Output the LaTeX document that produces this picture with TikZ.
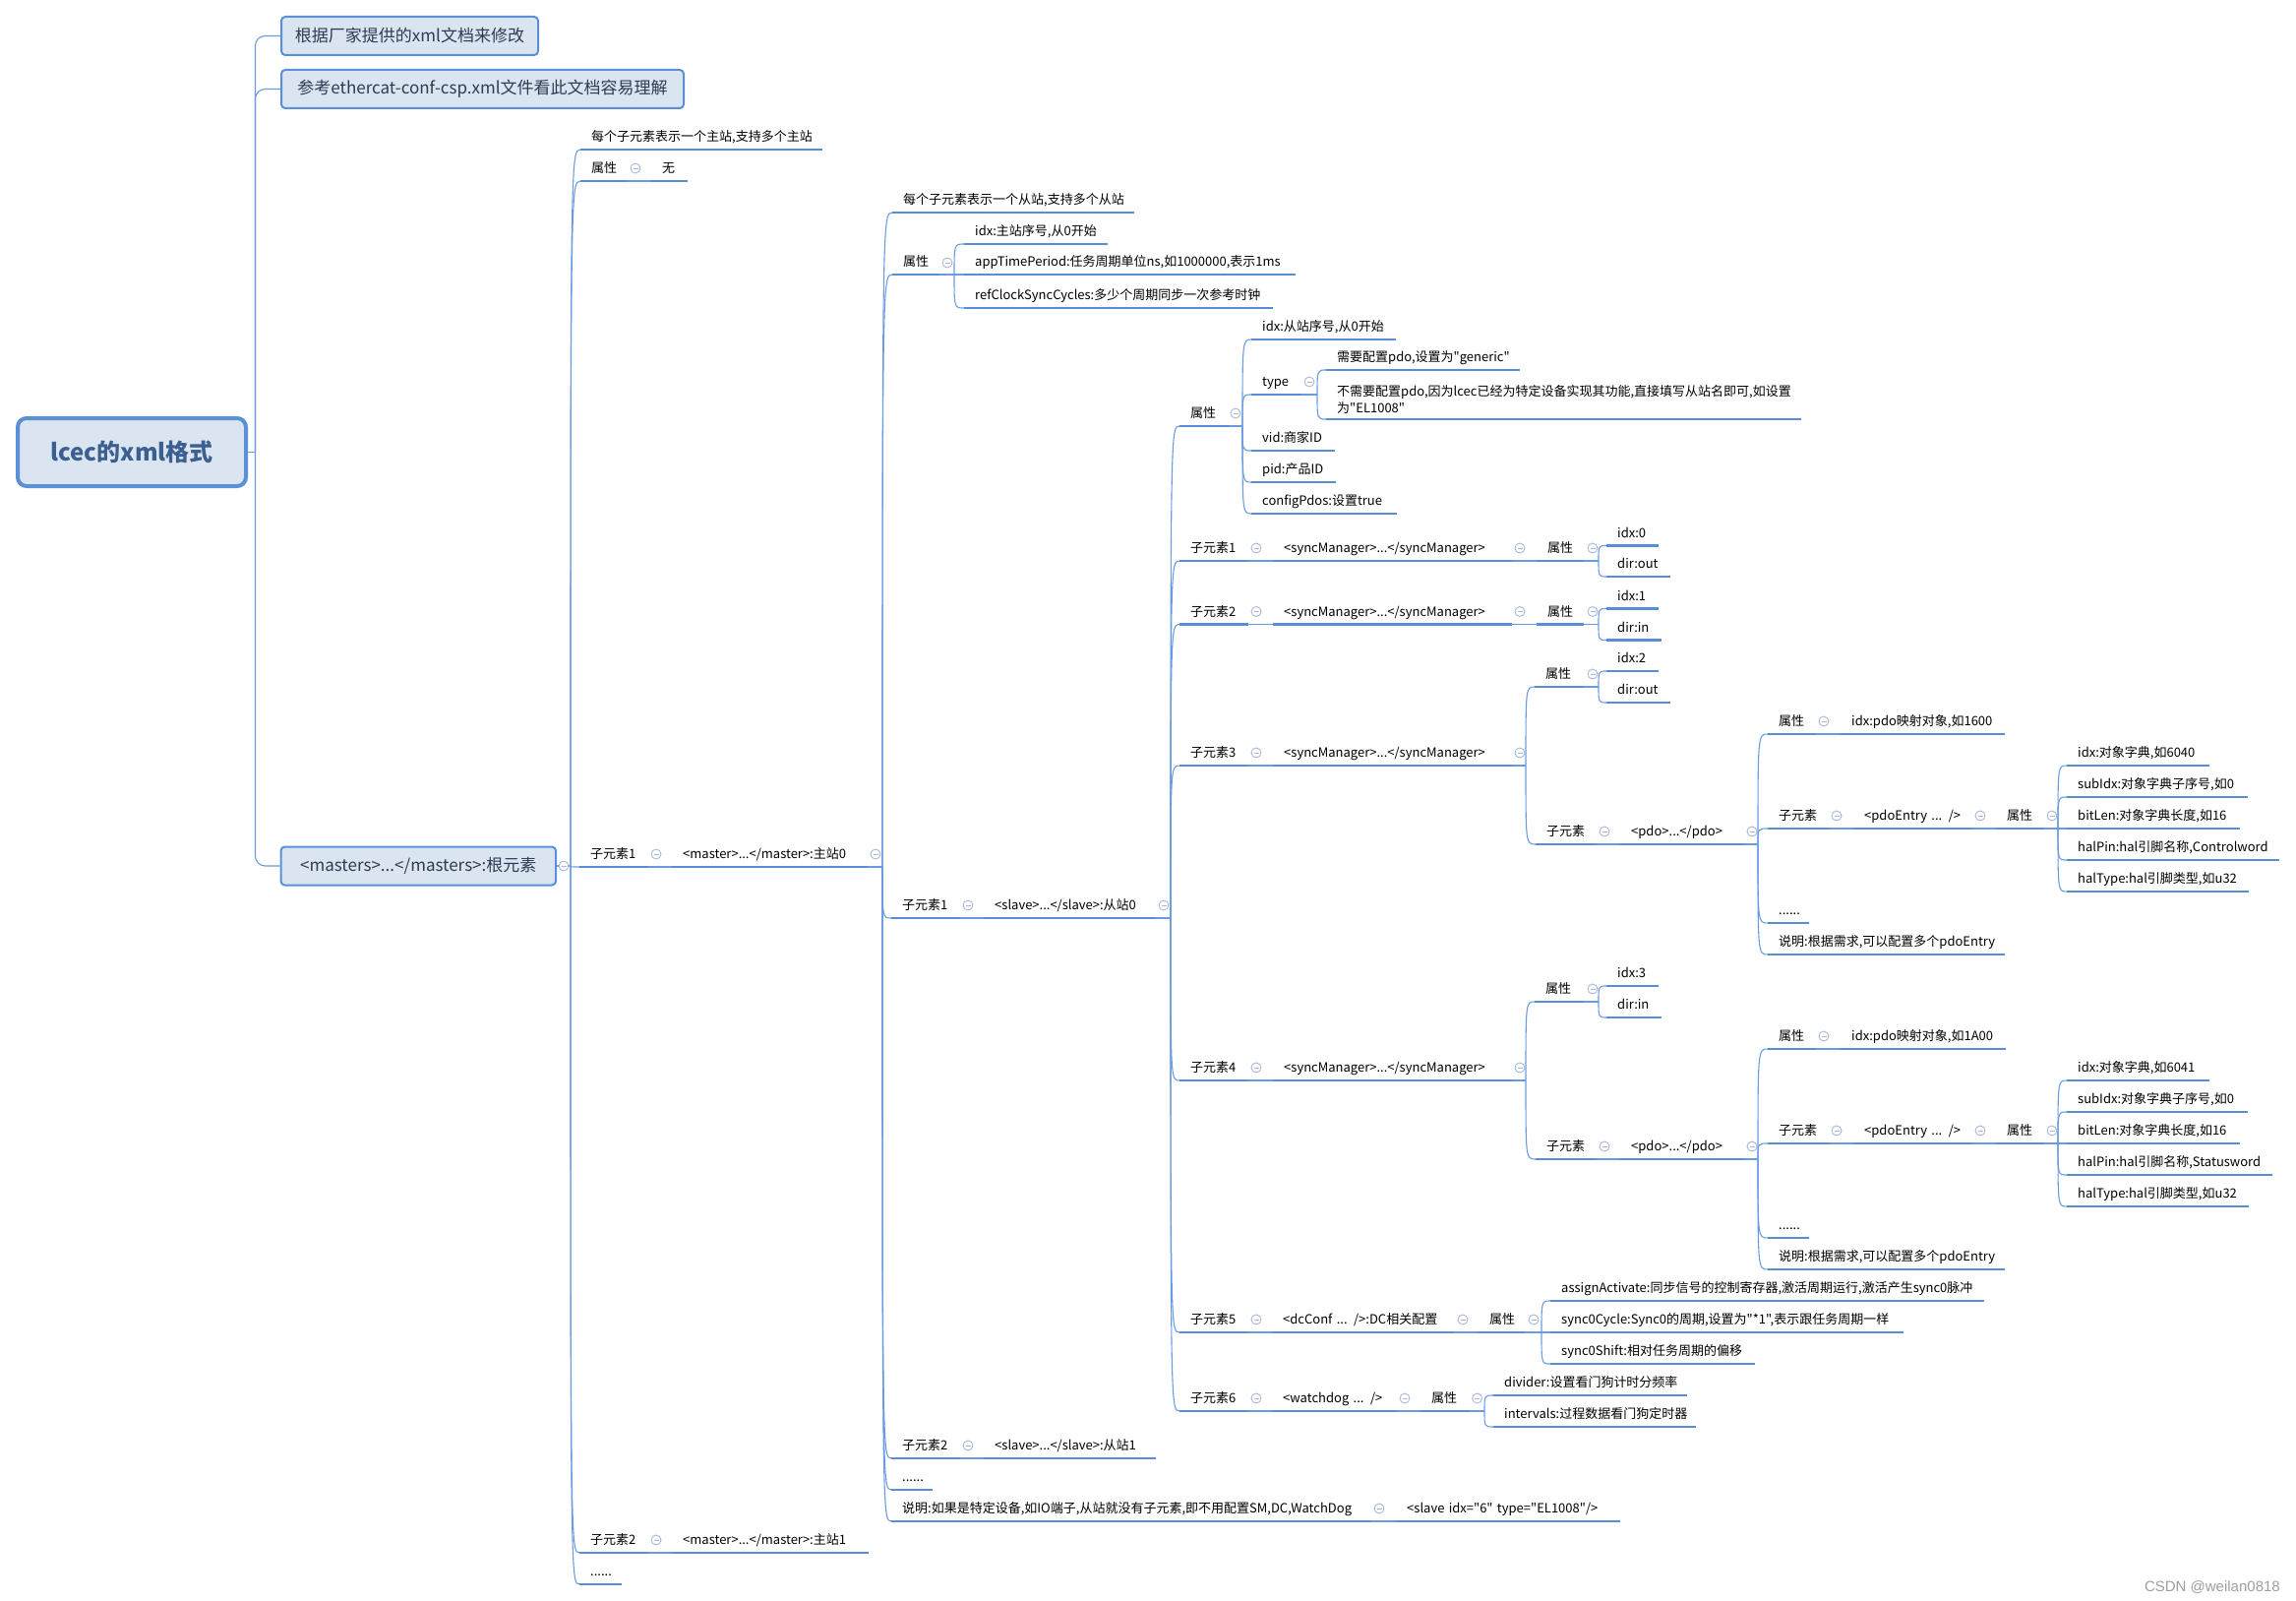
\documentclass[tikz,border=0pt]{standalone}
\usepackage{fontspec}
\setmainfont{Noto Sans CJK SC}[Ligatures=TeXOff]
\newfontfamily\wmfont{Liberation Sans}
\definecolor{ulc}{HTML}{5B8CD6}
\definecolor{cnc}{HTML}{6A9BE0}
\definecolor{icc}{HTML}{A8B8DA}
\definecolor{bxf}{HTML}{DBE5F1}
\definecolor{bxd}{HTML}{5B8FD6}
\definecolor{rootc}{HTML}{3C5F92}
\definecolor{bxt}{HTML}{2E3B52}
\newcommand\itm[5]{%
  \node[lbl, text width={#3-#2-22}] (#1) at (#2,#4) {\mbox{#5}};
  \draw[ul] (#1.south west) -- (#1.south east);}
\newcommand\ico[3]{\node[ico] (#1) at (#2,#3) {};}
\newcommand\rowc[2]{\draw[conn] (#1.south east) -- (#2.south west);}
\newcommand\brc[2]{\draw[conn] (#1) .. controls (#1 |- #2.south west) .. (#2.south west);}
\begin{document}
\begin{tikzpicture}[x=1pt,y=-1pt,
  lbl/.style={anchor=south west, inner xsep=11pt, inner ysep=5pt, text height=10pt, text depth=3pt, align=left, font=\fontsize{13}{16}\selectfont},
  lbltwo/.style={anchor=south west, inner xsep=11pt, inner ysep=5pt, align=left, font=\fontsize{13}{17.5}\selectfont},
  ul/.style={draw=ulc, line width=2.6pt},
  conn/.style={draw=cnc, line width=1.1pt},
  ico/.style={circle, draw=icc, line width=0.9pt, fill=white, minimum size=10pt, inner sep=0pt,
    path picture={\draw[icc, line width=0.9pt] ([xshift=-2.5pt]path picture bounding box.center) -- ([xshift=2.5pt]path picture bounding box.center);}},
  rootbox/.style={draw=bxd, line width=4pt, fill=bxf, rounded corners=9pt, minimum width=232pt, minimum height=69pt, font=\fontsize{24}{28}\selectfont\bfseries, text=rootc},
  bigbox/.style={draw=bxd, line width=2pt, fill=bxf, rounded corners=4pt, minimum height=39pt, font=\fontsize{17}{20}\selectfont, text=bxt},
]
\useasboundingbox (0,0) rectangle (2334,1627);

% ---------- root and first level ----------
\node[rootbox] (root) at (134,459.5) {lcec的xml格式};
\node[bigbox, minimum width=261pt] (ba) at (416.5,36.5) {根据厂家提供的xml文档来修改};
\node[bigbox, minimum width=409pt] (bb) at (490.5,90.5) {参考ethercat-conf-csp.xml文件看此文档容易理解};
\node[bigbox, minimum width=279.5pt] (bc) at (425.25,880) {<masters>...</masters>:根元素};
\coordinate (jR) at (259.5,459.5);
\draw[conn] (root.east) -- (jR);
\draw[conn, rounded corners=10pt] (jR) |- (ba.west);
\draw[conn, rounded corners=10pt] (jR) |- (bb.west);
\draw[conn, rounded corners=10pt] (jR) |- (bc.west);

% ---------- masters ----------
\itm{m1}{590}{836}{152}{每个子元素表示一个主站,支持多个主站}
\itm{m2}{590}{638}{184}{属性}
\itm{m2v}{662}{699}{184}{无}
\itm{m3}{589}{659}{881}{子元素1}
\itm{m3v}{683}{882}{881}{<master>...</master>:主站0}
\itm{m4}{589}{659}{1578}{子元素2}
\itm{m4v}{683}{883}{1578}{<master>...</master>:主站1}
\itm{m5}{589}{632}{1610}{......}
\coordinate (jM) at (580,880);
\draw[conn] (bc.east) -- (jM);
\brc{jM}{m1} \brc{jM}{m2} \brc{jM}{m3} \brc{jM}{m4} \brc{jM}{m5}
\rowc{m2}{m2v} \rowc{m3}{m3v} \rowc{m4}{m4v}

% ---------- master 0 ----------
\itm{a1}{907}{1153}{216}{每个子元素表示一个从站,支持多个从站}
\itm{a2}{907}{955}{279}{属性}
\itm{a2a}{980}{1126}{248}{idx:主站序号,从0开始}
\itm{a2b}{980}{1317}{279}{appTimePeriod:任务周期单位ns,如1000000,表示1ms}
\itm{a2c}{980}{1294}{313}{refClockSyncCycles:多少个周期同步一次参考时钟}
\itm{a3}{906}{976}{933}{子元素1}
\itm{a3v}{1000}{1175}{933}{<slave>...</slave>:从站0}
\itm{a4}{906}{976}{1482}{子元素2}
\itm{a4v}{1000}{1175}{1482}{<slave>...</slave>:从站1}
\itm{a5}{906}{948}{1514}{......}
\itm{a6}{906}{1394}{1546}{说明:如果是特定设备,如IO端子,从站就没有子元素,即不用配置SM,DC,WatchDog}
\itm{a6v}{1419}{1647}{1546}{<slave idx="6" type="EL1008"/>}
\coordinate (jM0) at (897,881);
\draw[conn] (m3v.south east) -- (jM0);
\brc{jM0}{a1} \brc{jM0}{a2} \brc{jM0}{a3} \brc{jM0}{a4} \brc{jM0}{a5} \brc{jM0}{a6}
\coordinate (jA2) at (970,279);
\draw[conn] (a2.south east) -- (jA2);
\brc{jA2}{a2a} \brc{jA2}{a2b} \brc{jA2}{a2c}
\rowc{a3}{a3v} \rowc{a4}{a4v} \rowc{a6}{a6v}

% ---------- slave 0 ----------
\coordinate (jS0) at (1190,933);
\draw[conn] (a3v.south east) -- (jS0);
\itm{s1}{1199}{1249}{433}{属性}
\itm{s1a}{1272}{1419}{345}{idx:从站序号,从0开始}
\itm{s1b}{1272}{1323}{401}{type}
\itm{t1}{1348}{1545}{376}{需要配置pdo,设置为"generic"}
\node[lbltwo, text width={1831-1348-22}] (t2) at (1348,426) {\mbox{不需要配置pdo,因为lcec已经为特定设备实现其功能,直接填写从站名即可,如设置}\\\mbox{为"EL1008"}};
\draw[ul] (t2.south west) -- (t2.south east);
\itm{s1c}{1272}{1357}{458}{vid:商家ID}
\itm{s1d}{1272}{1358}{490}{pid:产品ID}
\itm{s1e}{1272}{1420}{522}{configPdos:设置true}
\coordinate (jS1) at (1263,433);
\draw[conn] (s1.south east) -- (jS1);
\brc{jS1}{s1a} \brc{jS1}{s1b} \brc{jS1}{s1c} \brc{jS1}{s1d} \brc{jS1}{s1e}
\coordinate (jT) at (1339,401);
\draw[conn] (s1b.south east) -- (jT);
\brc{jT}{t1} \brc{jT}{t2}

% syncManager 1
\itm{g1}{1199}{1269}{570}{子元素1}
\itm{g1v}{1294}{1537}{570}{<syncManager>...</syncManager>}
\itm{g1a}{1562}{1610}{570}{属性}
\itm{g1x}{1633}{1686}{554.5}{idx:0}
\itm{g1y}{1633}{1698}{586}{dir:out}
\rowc{g1}{g1v} \rowc{g1v}{g1a}
\coordinate (jG1) at (1625,570);
\draw[conn] (g1a.south east) -- (jG1);
\brc{jG1}{g1x} \brc{jG1}{g1y}

% syncManager 2
\itm{g2}{1199}{1269}{634.5}{子元素2}
\itm{g2v}{1294}{1537}{634.5}{<syncManager>...</syncManager>}
\itm{g2a}{1562}{1610}{634.5}{属性}
\itm{g2x}{1633}{1686}{618.5}{idx:1}
\itm{g2y}{1633}{1689}{650.5}{dir:in}
\rowc{g2}{g2v} \rowc{g2v}{g2a}
\coordinate (jG2) at (1625,634.5);
\draw[conn] (g2a.south east) -- (jG2);
\brc{jG2}{g2x} \brc{jG2}{g2y}

% syncManager 3
\itm{g3}{1199}{1269}{778}{子元素3}
\itm{g3v}{1294}{1537}{778}{<syncManager>...</syncManager>}
\rowc{g3}{g3v}
\coordinate (jG3) at (1551,778);
\draw[conn] (g3v.south east) -- (jG3);
\itm{g3a}{1560}{1610}{698}{属性}
\itm{g3x}{1633}{1686}{682}{idx:2}
\itm{g3y}{1633}{1698}{714}{dir:out}
\coordinate (jG3a) at (1625,698);
\draw[conn] (g3a.south east) -- (jG3a);
\brc{jG3a}{g3x} \brc{jG3a}{g3y}
\itm{g3p}{1561}{1623}{858}{子元素}
\itm{g3pv}{1647}{1773}{858}{<pdo>...</pdo>}
\rowc{g3p}{g3pv}
\brc{jG3}{g3a} \brc{jG3}{g3p}
\coordinate (jP3) at (1787,858);
\draw[conn] (g3pv.south east) -- (jP3);
\itm{p3a}{1797}{1846}{746}{属性}
\itm{p3av}{1871}{2038}{746}{idx:pdo映射对象,如1600}
\rowc{p3a}{p3av}
\itm{p3e}{1797}{1860}{842}{子元素}
\itm{p3ev}{1884}{2005}{842}{<pdoEntry ... />}
\itm{p3ea}{2029}{2078}{842}{属性}
\rowc{p3e}{p3ev} \rowc{p3ev}{p3ea}
\itm{p3d}{1797}{1839}{938}{......}
\itm{p3n}{1797}{2038}{970}{说明:根据需求,可以配置多个pdoEntry}
\brc{jP3}{p3a} \brc{jP3}{p3e} \brc{jP3}{p3d} \brc{jP3}{p3n}
\itm{e3a}{2101}{2246}{778}{idx:对象字典,如6040}
\itm{e3b}{2101}{2285}{810}{subIdx:对象字典子序号,如0}
\itm{e3c}{2101}{2277}{842}{bitLen:对象字典长度,如16}
\itm{e3d}{2101}{2317}{874}{halPin:hal引脚名称,Controlword}
\itm{e3e}{2101}{2286}{906}{halType:hal引脚类型,如u32}
\coordinate (jE3) at (2092,842);
\draw[conn] (p3ea.south east) -- (jE3);
\brc{jE3}{e3a} \brc{jE3}{e3b} \brc{jE3}{e3c} \brc{jE3}{e3d} \brc{jE3}{e3e}

% syncManager 4
\itm{g4}{1199}{1269}{1098}{子元素4}
\itm{g4v}{1294}{1537}{1098}{<syncManager>...</syncManager>}
\rowc{g4}{g4v}
\coordinate (jG4) at (1551,1098);
\draw[conn] (g4v.south east) -- (jG4);
\itm{g4a}{1560}{1610}{1018}{属性}
\itm{g4x}{1633}{1686}{1002}{idx:3}
\itm{g4y}{1633}{1689}{1034}{dir:in}
\coordinate (jG4a) at (1625,1018);
\draw[conn] (g4a.south east) -- (jG4a);
\brc{jG4a}{g4x} \brc{jG4a}{g4y}
\itm{g4p}{1561}{1623}{1178}{子元素}
\itm{g4pv}{1647}{1773}{1178}{<pdo>...</pdo>}
\rowc{g4p}{g4pv}
\brc{jG4}{g4a} \brc{jG4}{g4p}
\coordinate (jP4) at (1787,1178);
\draw[conn] (g4pv.south east) -- (jP4);
\itm{p4a}{1797}{1846}{1066}{属性}
\itm{p4av}{1871}{2039}{1066}{idx:pdo映射对象,如1A00}
\rowc{p4a}{p4av}
\itm{p4e}{1797}{1860}{1162}{子元素}
\itm{p4ev}{1884}{2005}{1162}{<pdoEntry ... />}
\itm{p4ea}{2029}{2078}{1162}{属性}
\rowc{p4e}{p4ev} \rowc{p4ev}{p4ea}
\itm{p4d}{1797}{1839}{1258}{......}
\itm{p4n}{1797}{2038}{1290}{说明:根据需求,可以配置多个pdoEntry}
\brc{jP4}{p4a} \brc{jP4}{p4e} \brc{jP4}{p4d} \brc{jP4}{p4n}
\itm{e4a}{2101}{2246}{1098}{idx:对象字典,如6041}
\itm{e4b}{2101}{2285}{1130}{subIdx:对象字典子序号,如0}
\itm{e4c}{2101}{2277}{1162}{bitLen:对象字典长度,如16}
\itm{e4d}{2101}{2310}{1194}{halPin:hal引脚名称,Statusword}
\itm{e4e}{2101}{2286}{1226}{halType:hal引脚类型,如u32}
\coordinate (jE4) at (2092,1162);
\draw[conn] (p4ea.south east) -- (jE4);
\brc{jE4}{e4a} \brc{jE4}{e4b} \brc{jE4}{e4c} \brc{jE4}{e4d} \brc{jE4}{e4e}

% dcConf
\itm{g5}{1199}{1269}{1354}{子元素5}
\itm{g5v}{1293}{1478}{1354}{<dcConf ... />:DC相关配置}
\itm{g5a}{1503}{1550}{1354}{属性}
\rowc{g5}{g5v} \rowc{g5v}{g5a}
\itm{d1}{1576}{2017}{1322}{assignActivate:同步信号的控制寄存器,激活周期运行,激活产生sync0脉冲}
\itm{d2}{1576}{1934.5}{1354}{sync0Cycle:Sync0的周期,设置为"*1",表示跟任务周期一样}
\itm{d3}{1576}{1783.5}{1386}{sync0Shift:相对任务周期的偏移}
\coordinate (jG5) at (1567,1354);
\draw[conn] (g5a.south east) -- (jG5);
\brc{jG5}{d1} \brc{jG5}{d2} \brc{jG5}{d3}

% watchdog
\itm{g6}{1199}{1269}{1434}{子元素6}
\itm{g6v}{1293}{1420}{1434}{<watchdog ... />}
\itm{g6a}{1444}{1493.5}{1434}{属性}
\rowc{g6}{g6v} \rowc{g6v}{g6a}
\itm{w1}{1518}{1715}{1418}{divider:设置看门狗计时分频率}
\itm{w2}{1518}{1724}{1450}{intervals:过程数据看门狗定时器}
\coordinate (jG6) at (1509,1434);
\draw[conn] (g6a.south east) -- (jG6);
\brc{jG6}{w1} \brc{jG6}{w2}

\brc{jS0}{s1} \brc{jS0}{g1} \brc{jS0}{g2} \brc{jS0}{g3} \brc{jS0}{g4} \brc{jS0}{g5} \brc{jS0}{g6}

% ---------- collapse icons ----------
\ico{bci}{573}{880}
\ico{m2i}{646}{171} \ico{m3i}{667}{868} \ico{m3vi}{890}{868} \ico{m4i}{667}{1565}
\ico{a2i}{963}{267} \ico{a3i}{984}{920} \ico{a3vi}{1183}{920} \ico{a4i}{984}{1469} \ico{a6i}{1402}{1533}
\ico{s1i}{1256}{420} \ico{s1bi}{1331}{388}
\ico{g1i}{1277}{557} \ico{g1vi}{1545}{557} \ico{g1ai}{1619}{557}
\ico{g2i}{1277}{621.5} \ico{g2vi}{1545}{621.5} \ico{g2ai}{1619}{621.5}
\ico{g3i}{1277}{765} \ico{g3vi}{1545}{765} \ico{g3ai}{1619}{685}
\ico{g3pi}{1631}{845} \ico{g3pvi}{1781}{845}
\ico{p3ai}{1854}{733} \ico{p3ei}{1867}{829} \ico{p3evi}{2013}{829} \ico{p3eai}{2086}{829}
\ico{g4i}{1277}{1085} \ico{g4vi}{1545}{1085} \ico{g4ai}{1619}{1005}
\ico{g4pi}{1631}{1165} \ico{g4pvi}{1781}{1165}
\ico{p4ai}{1854}{1053} \ico{p4ei}{1867}{1149} \ico{p4evi}{2013}{1149} \ico{p4eai}{2086}{1149}
\ico{g5i}{1277}{1341} \ico{g5vi}{1487}{1341} \ico{g5ai}{1559}{1341}
\ico{g6i}{1277}{1421} \ico{g6vi}{1428}{1421} \ico{g6ai}{1501.6}{1421}

% ---------- watermark ----------
\node[anchor=base east, inner sep=0pt, font=\wmfont\fontsize{15}{18}\selectfont, text=black!38] (wm) at (2318,1617) {CSDN @weilan0818};
\end{tikzpicture}
\end{document}
